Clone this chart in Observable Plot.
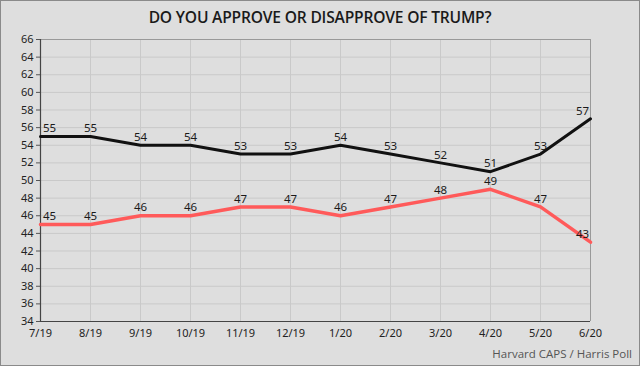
<!DOCTYPE html>
<html><head><meta charset="utf-8">
<script src="https://cdn.jsdelivr.net/npm/d3@7"></script>
<script src="https://cdn.jsdelivr.net/npm/@observablehq/plot@0.6"></script>
<style>
body{margin:0;background:#fff;}
#wrap{position:relative;width:638px;height:364px;background:#dedede;border:1px solid #8a8a8a;overflow:hidden;font-family:"Open Sans",sans-serif;}
#title{height:29px;line-height:32px;text-align:center;font-size:15.6px;font-weight:600;color:#1a1a1a;letter-spacing:-0.2px;}
#cap{position:absolute;right:7px;bottom:4px;font-size:11.5px;color:#555;font-family:"Open Sans",sans-serif;}
svg{display:block;}
</style></head>
<body>
<div id="wrap">
<div id="title">DO YOU APPROVE OR DISAPPROVE OF TRUMP?</div>
<div id="chart"></div>
<div id="cap">Harvard CAPS / Harris Poll</div>
</div>
<script>
const months = ["7/19","8/19","9/19","10/19","11/19","12/19","1/20","2/20","3/20","4/20","5/20","6/20"];
const disapprove = [55,55,54,54,53,53,54,53,52,51,53,57];
const approve = [45,45,46,46,47,47,46,47,48,49,47,43];
const yTicks = [34,36,38,40,42,44,46,48,50,52,54,56,58,60,62,64,66];

const rows = [];
months.forEach((m,i)=>{
  rows.push({month:m, i, value:disapprove[i], series:"Disapprove"});
  rows.push({month:m, i, value:approve[i], series:"Approve"});
});
const last = months.length-1;

const labelOpts = (s) => ({
  filter: d => d.series===s && d.i!==0 && d.i!==last,
  x:"month", y:"value", text: d=>String(d.value), dy:-8,
  fontSize:11.5, fill:"#1a1a1a", fontFamily:"Noto Sans"
});

const chart = Plot.plot({
  width:638, height:316,
  marginLeft:39, marginRight:49, marginTop:9, marginBottom:25,
  style:{background:"transparent", fontFamily:"Noto Sans", fontSize:"11px", color:"#222"},
  x:{type:"point", domain:months, padding:0},
  y:{domain:[34,66]},
  marks:[
    Plot.gridY(yTicks, {stroke:"#c9c9c9", strokeOpacity:1, strokeWidth:1}),
    Plot.gridX(months, {stroke:"#c9c9c9", strokeOpacity:1, strokeWidth:1}),
    Plot.ruleY([66], {stroke:"#999"}),
    Plot.ruleX(["6/20"], {stroke:"#999"}),
    Plot.axisY(yTicks, {tickSize:4, tickPadding:3, fontSize:11, fill:"#222", stroke:"#555", label:null}),
    Plot.axisX(months, {tickSize:0, tickPadding:8, fontSize:11, fill:"#222", label:null}),
    Plot.ruleX(["7/19"], {stroke:"#444", strokeWidth:1.2}),
    Plot.ruleY([34], {stroke:"#444", strokeWidth:1.2}),
    Plot.line(rows.filter(d=>d.series==="Approve"), {x:"month", y:"value", stroke:"#ff5a5a", strokeWidth:3.5, curve:"linear", strokeLinejoin:"round"}),
    Plot.line(rows.filter(d=>d.series==="Disapprove"), {x:"month", y:"value", stroke:"#111", strokeWidth:3, curve:"linear", strokeLinejoin:"round"}),
    Plot.text(rows, labelOpts("Disapprove")),
    Plot.text(rows, labelOpts("Approve")),
    Plot.text(rows, {filter:d=>d.i===0, x:"month", y:"value", text:d=>String(d.value), dy:-8, dx:9, fontSize:11.5, fill:"#1a1a1a"}),
    Plot.text(rows, {filter:d=>d.i===last, x:"month", y:"value", text:d=>String(d.value), dy:-8, dx:-8, fontSize:11.5, fill:"#1a1a1a"})
  ]
});
document.getElementById("chart").appendChild(chart);
</script>
</body></html>
